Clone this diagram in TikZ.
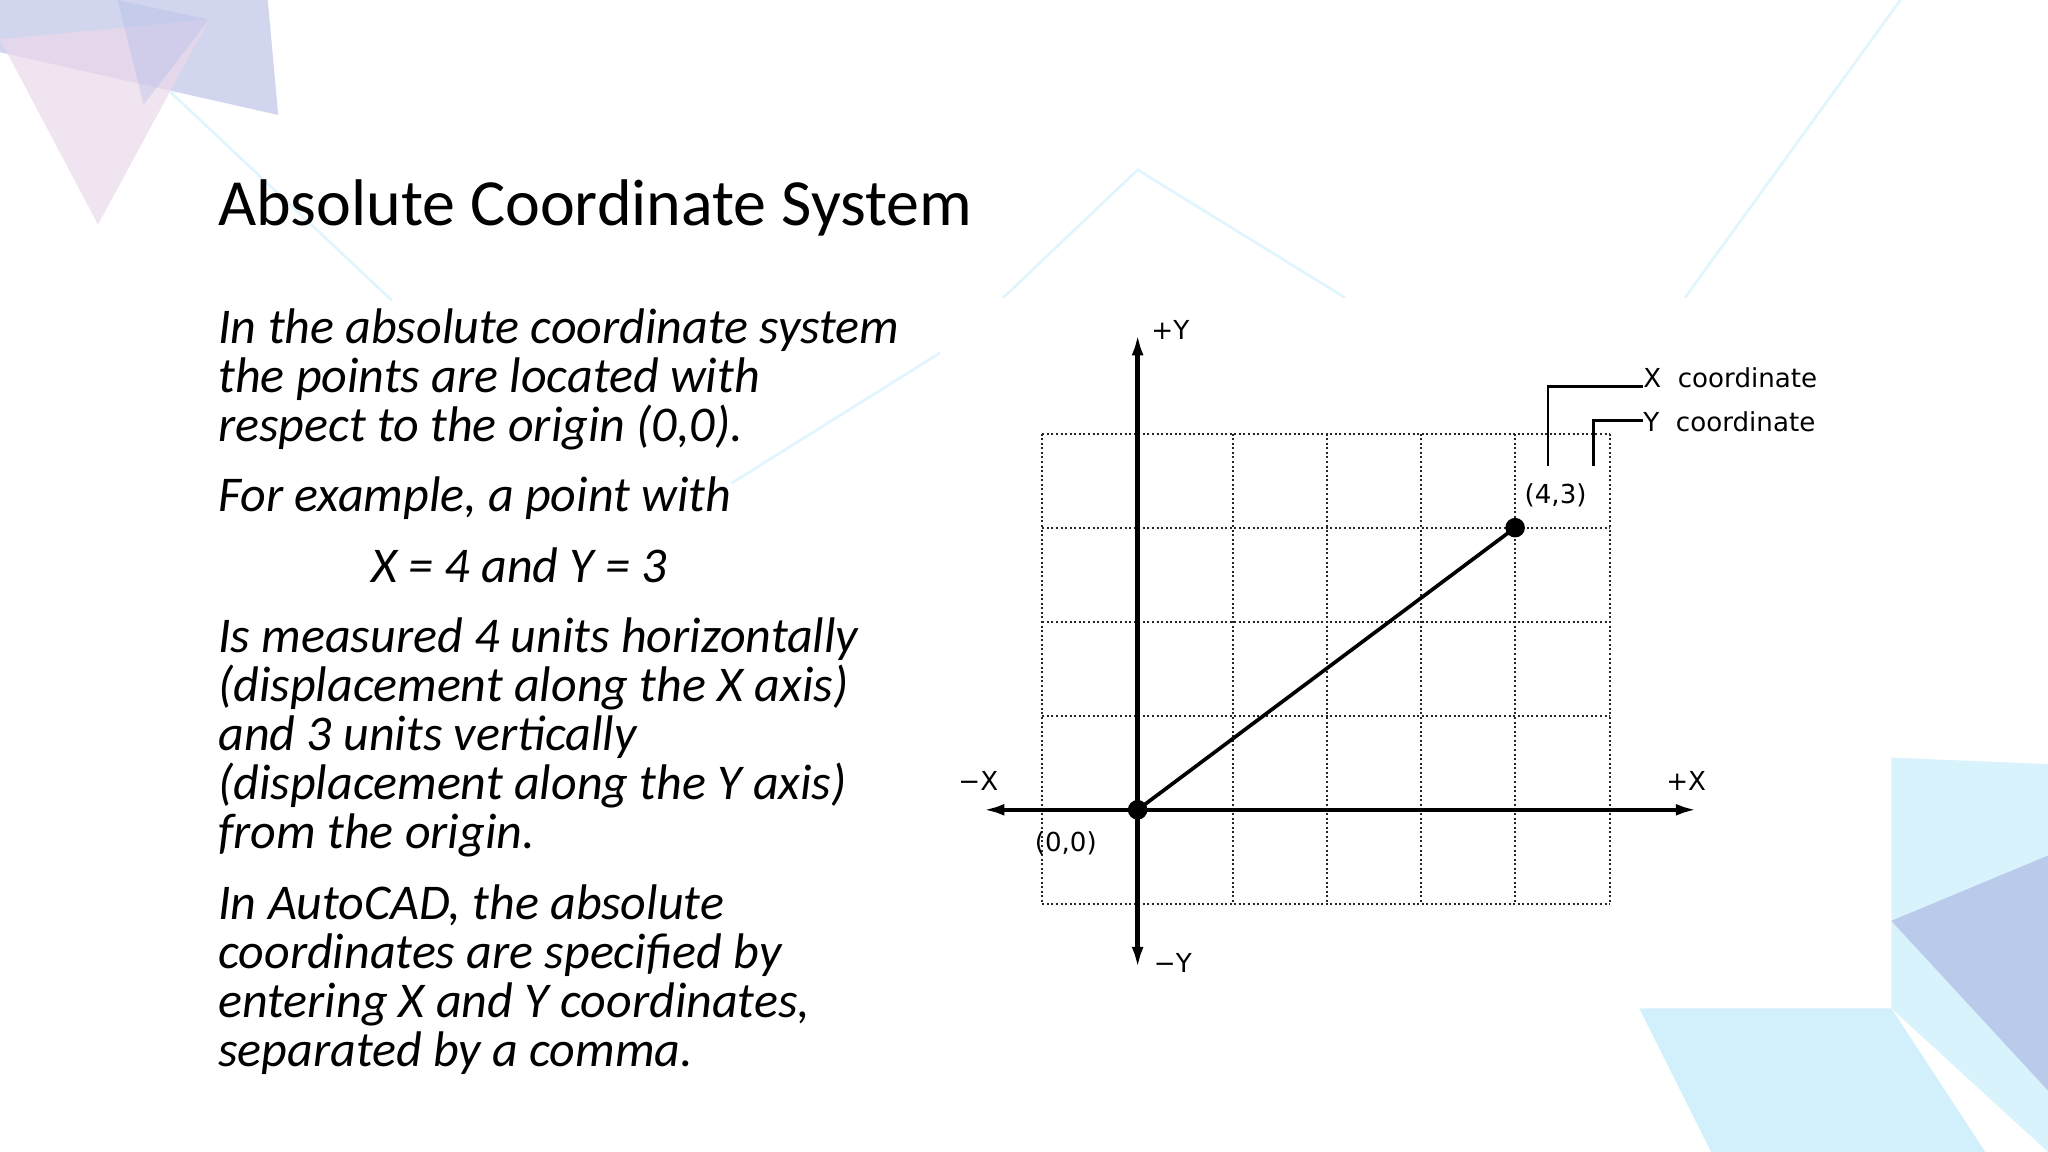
\documentclass[tikz,border=0pt]{standalone}
\usepackage{fontspec}
\usetikzlibrary{arrows.meta}
\setmainfont{Carlito}
\newfontfamily\lblfont{DejaVu Sans}
\begin{document}
\begin{tikzpicture}[x=1pt,y=-1pt,
  grid/.style={dotted,line width=1.5pt,black!85},
  axis/.style={line width=3.4pt,-{Latex[length=17pt,width=9pt]}},
  lbl/.style={font=\lblfont\fontsize{20}{20}\selectfont,inner sep=1pt},
  body/.style={font=\fontsize{38.3}{37.5}\selectfont\itshape,anchor=north west,align=left,inner sep=0pt}]
\useasboundingbox (0,0) rectangle (1568,882);
\fill[white] (0,0) rectangle (1568,882);
% decorations
\fill[cyan!30!blue!25,opacity=0.7] (0,0) -- (205,0) -- (213,88) -- (0,40) -- cycle;
\fill[violet!15,opacity=0.7] (0,30) -- (160,15) -- (75,172) -- cycle;
\fill[cyan!40!blue!30,opacity=0.4] (90,0) -- (160,15) -- (110,80) -- cycle;
\draw[cyan!12,line width=2pt] (130,70) -- (300,230);
\draw[cyan!12,line width=2pt] (768,228) -- (871,130) -- (1030,228);
\draw[cyan!12,line width=2pt] (1290,228) -- (1455,0);
\draw[cyan!12,line width=2pt] (560,370) -- (720,270);
\fill[cyan!15] (1448,580) -- (1568,585) -- (1568,882) -- (1448,772) -- cycle;
\fill[cyan!18] (1255,772) -- (1448,772) -- (1520,882) -- (1310,882) -- cycle;
\fill[cyan!40!blue!30,opacity=0.8] (1448,705) -- (1568,655) -- (1568,835) -- cycle;
\fill[white] (720,228) rectangle (1448,772);
% text
\node[anchor=base west,font=\fontsize{50.5}{54}\selectfont,inner sep=0pt] (title) at (167,173) {Absolute Coordinate System};
\node[body] (p1) at (167,236) {In the absolute coordinate system\\the points are located with\\respect to the origin (0,0).};
\node[body] (p2) at (167,365) {For example, a point with};
\node[body] (p3) at (284,419) {X = 4 and Y = 3};
\node[body] (p4) at (167,473) {Is measured 4 units horizontally\\(displacement along the X axis)\\and 3 units vertically\\(displacement along the Y axis)\\from the origin.};
\node[body] (p5) at (167,677) {In AutoCAD, the absolute\\coordinates are specified by\\entering X and Y coordinates,\\separated by a comma.};
% grid
\foreach \x in {798,944,1016,1088,1160,1233} \draw[grid] (\x,332) -- (\x,692);
\foreach \y in {332,404,476,548,692} \draw[grid] (798,\y) -- (1233,\y);
% axes
\coordinate (o) at (871,620);
\coordinate (xp) at (1300,620);
\coordinate (xm) at (752,620);
\coordinate (yp) at (871,255);
\coordinate (ym) at (871,742);
\draw[axis] (o) -- (xp);
\draw[axis] (o) -- (xm);
\draw[axis] (o) -- (yp);
\draw[axis] (o) -- (ym);
\coordinate (pt) at (1160,404);
\draw[line width=2.8pt] (o) -- (pt);
\fill (o) circle (7.5pt);
\fill (pt) circle (7.5pt);
\node[lbl] (lyp) at (896,253) {+Y};
\node[lbl] (lym) at (898,737) {−Y};
\node[lbl] (lxp) at (1291,598) {+X};
\node[lbl] (lxm) at (749,598) {−X};
\node[lbl] (lo) at (816,646) {(0,0)};
\node[lbl] (lpt) at (1191,379) {(4,3)};
\node[lbl,anchor=west] (xc) at (1257,289) {X\ \ coordinate};
\node[lbl,anchor=west] (yc) at (1257,323) {Y\ \ coordinate};
\draw[line width=1.8pt] (1185,357) -- (1185,296) -- (1258,296);
\draw[line width=1.8pt] (1220,357) -- (1220,322) -- (1258,322);
\end{tikzpicture}
\end{document}
